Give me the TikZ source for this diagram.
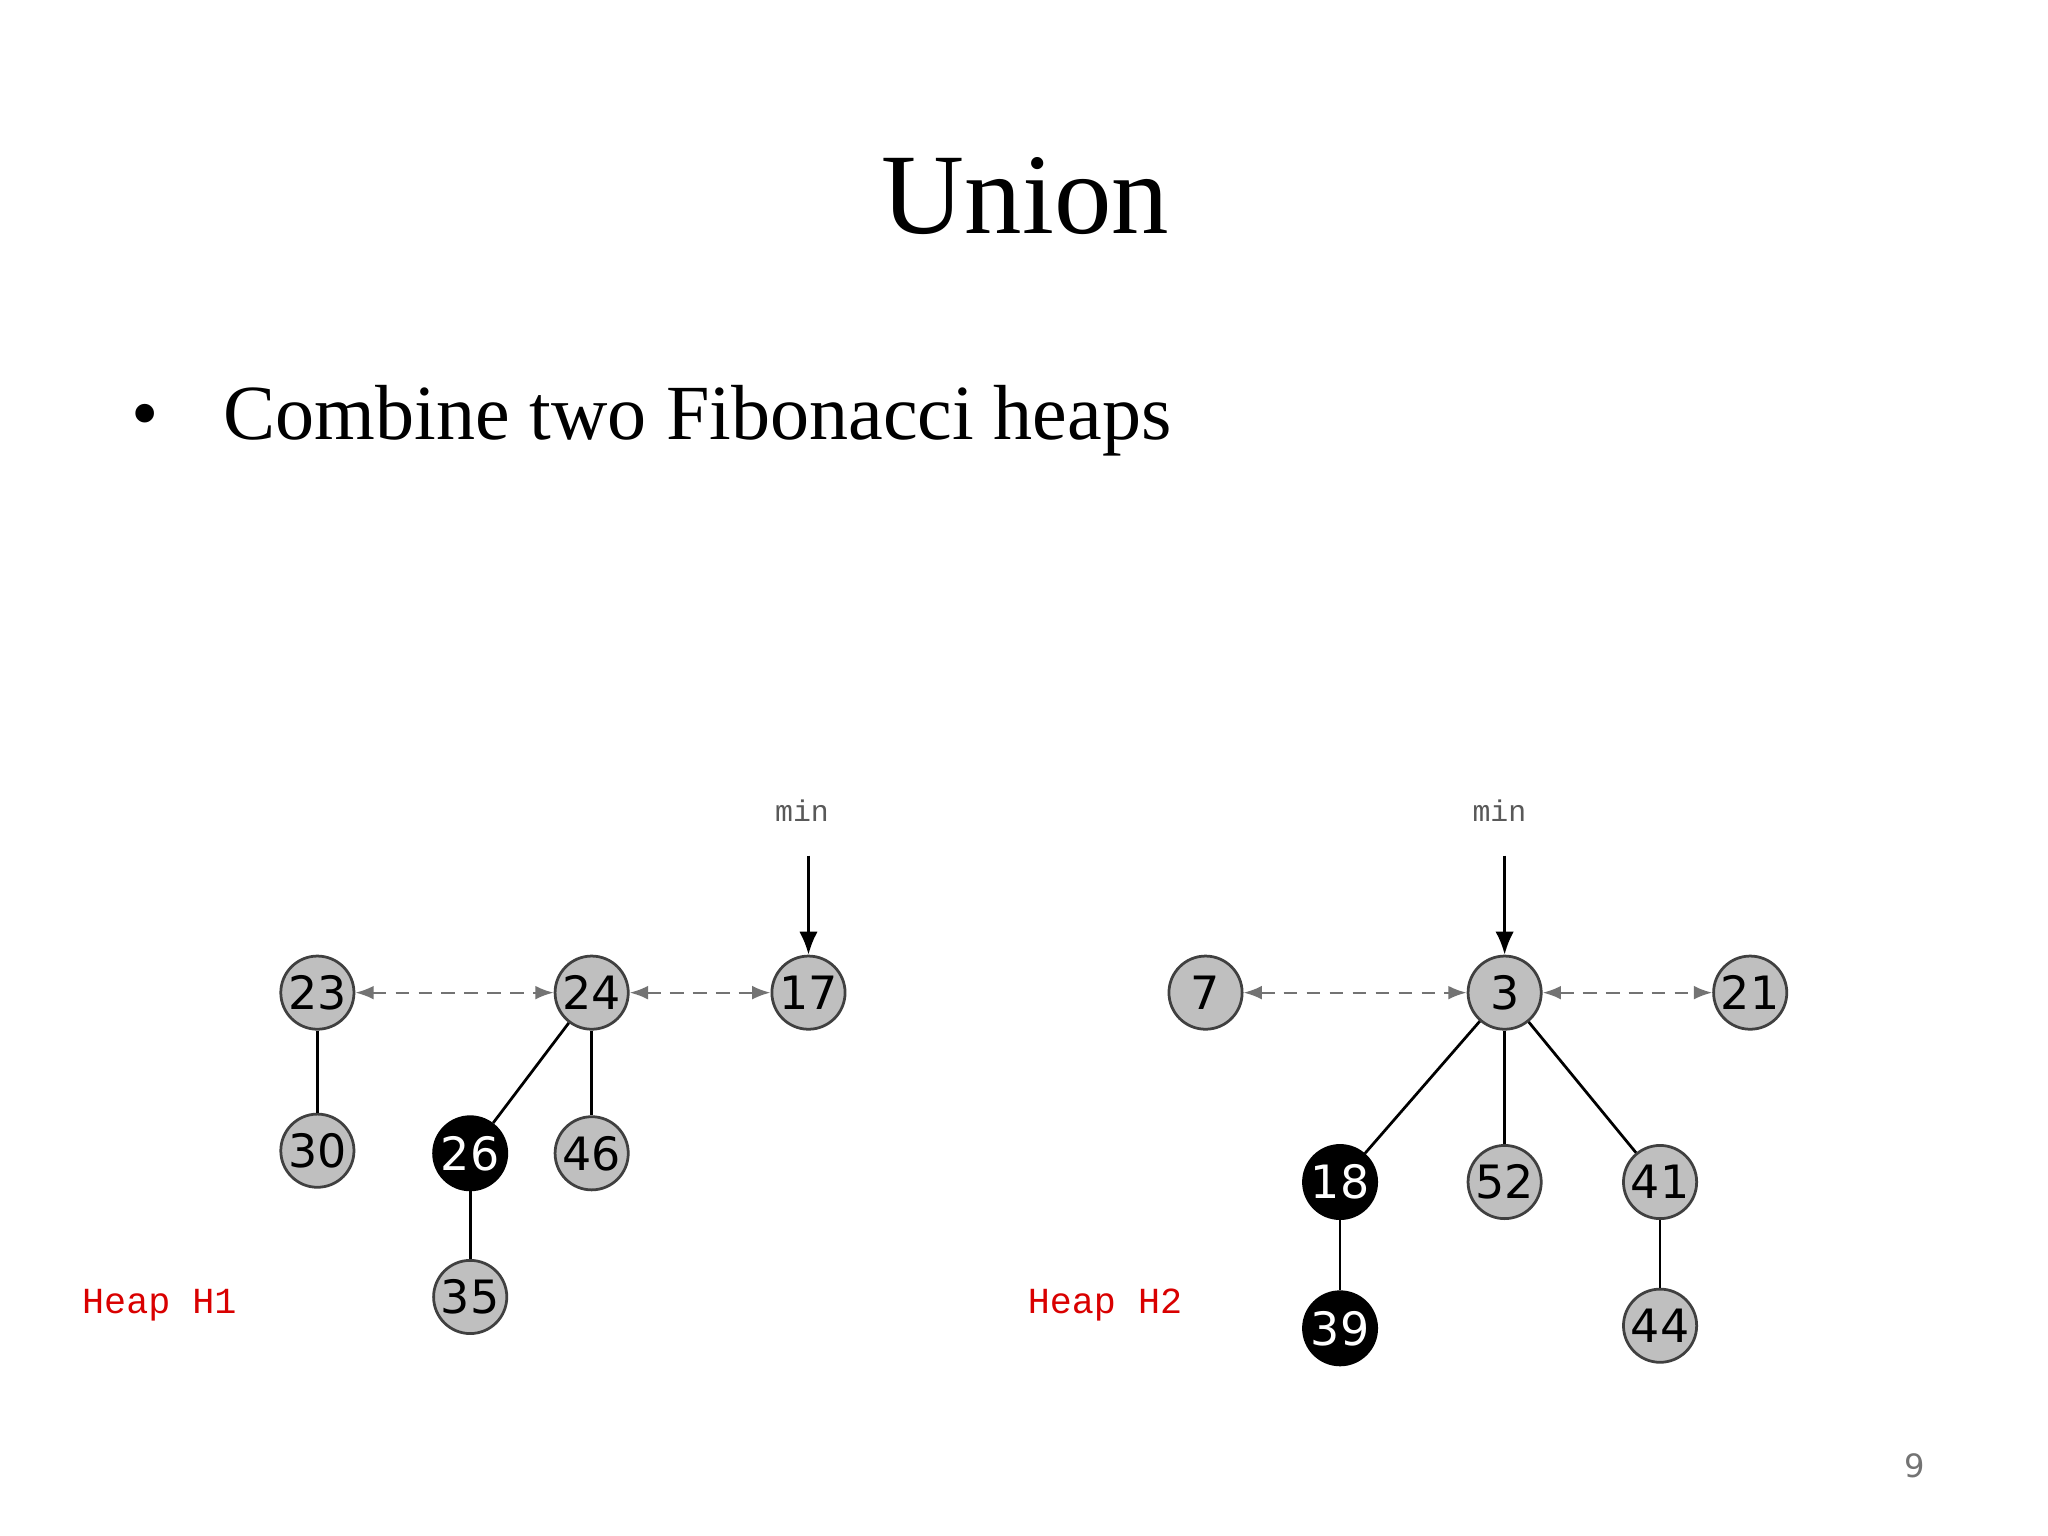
\documentclass[tikz,border=0pt]{standalone}
\usepackage{fontspec}
\setmainfont{Liberation Serif}
\newfontfamily\numfont{DejaVu Sans}
\newfontfamily\monofont{Liberation Mono}
\usetikzlibrary{arrows.meta}
\begin{document}
\begin{tikzpicture}[x=0.01cm,y=-0.01cm,
  hn/.style={circle,draw=black!75,fill=black!25,line width=0.6pt,minimum size=0.56cm,inner sep=0pt,font=\numfont\fontsize{10}{12}\selectfont},
  bn/.style={hn,fill=black,draw=black,text=white},
  sib/.style={densely dashed,draw=black!55,line width=0.5pt,{Latex[length=4pt,width=3pt]}-{Latex[length=4pt,width=3pt]}},
  edge/.style={draw=black,line width=0.6pt},
  minlbl/.style={font=\monofont\fontsize{6.5}{8}\selectfont,text=black!65},
  heaplbl/.style={font=\monofont\fontsize{8}{10}\selectfont,text=red!85!black},
  ptr/.style={draw=black,line width=0.6pt,-{Latex[length=5pt,width=4pt]}}]
\useasboundingbox[fill=white] (0,0) rectangle (1568,1176);
\node (title) at (785,150) {\fontsize{25}{30}\selectfont Union};
\node[anchor=west] (bul) at (88,322) {\fontsize{17}{20}\selectfont \textbullet\hspace{0.5cm}Combine two Fibonacci heaps};
% Heap H1
\node[hn] (n23) at (243,760) {23};
\node[hn] (n24) at (453,760) {24};
\node[hn] (n17) at (619,760) {17};
\node[hn] (n30) at (243,881) {30};
\node[bn] (n26) at (360,883) {26};
\node[hn] (n46) at (453,883) {46};
\node[hn] (n35) at (360,993) {35};
\draw[sib] (n23) -- (n24);
\draw[sib] (n24) -- (n17);
\draw[edge] (n23) -- (n30);
\draw[edge] (n24) -- (n26);
\draw[edge] (n24) -- (n46);
\draw[edge] (n26) -- (n35);
\node[minlbl] (min1) at (614,621) {min};
\coordinate (p1) at (619,655);
\draw[ptr] (p1) -- (n17);
\node[heaplbl] (h1) at (122,999) {Heap H1};
% Heap H2
\node[hn] (n7) at (923,760) {7};
\node[hn] (n3) at (1152,760) {3};
\node[hn] (n21) at (1340,760) {21};
\node[bn] (n18) at (1026,905) {18};
\node[hn] (n52) at (1152,905) {52};
\node[hn] (n41) at (1271,905) {41};
\node[bn] (n39) at (1026,1017) {39};
\node[hn] (n44) at (1271,1015) {44};
\draw[sib] (n7) -- (n3);
\draw[sib] (n3) -- (n21);
\draw[edge] (n3) -- (n18);
\draw[edge] (n3) -- (n52);
\draw[edge] (n3) -- (n41);
\draw[edge] (n18) -- (n39);
\draw[edge] (n41) -- (n44);
\node[minlbl] (min2) at (1148,621) {min};
\coordinate (p2) at (1152,655);
\draw[ptr] (p2) -- (n3);
\node[heaplbl] (h2) at (846,999) {Heap H2};
\node[text=black!55,font=\numfont\fontsize{7}{8}\selectfont] (pg) at (1466,1122) {9};
\end{tikzpicture}
\end{document}
